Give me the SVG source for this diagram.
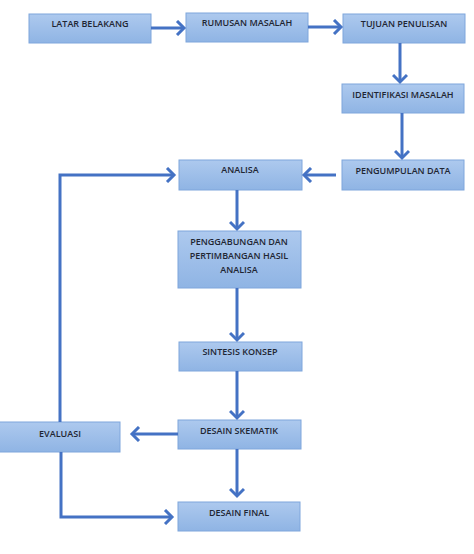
<svg xmlns="http://www.w3.org/2000/svg" width="474" height="554" viewBox="0 0 474 554">
<defs>
<linearGradient id="g" x1="0" y1="0" x2="0" y2="1">
<stop offset="0" stop-color="#adc9ee"/>
<stop offset="1" stop-color="#8fb4e4"/>
</linearGradient>
<marker id="a" markerUnits="userSpaceOnUse" markerWidth="16" markerHeight="16" refX="12" refY="8" orient="auto">
<path d="M5 1 L12 8 L5 15" fill="none" stroke="#4472c4" stroke-width="3"/>
</marker>
</defs>
<style>
.b{fill:url(#g);stroke:#7ea6dc;stroke-width:1}
.t{font-family:"Open Sans","Liberation Sans",sans-serif;font-size:9px;font-weight:600;fill:#1f2633;text-anchor:middle}
.c{fill:none;stroke:#4472c4;stroke-width:3}
</style>
<rect width="474" height="554" fill="#fff"/>
<g id="latar"><rect class="b" x="29" y="14" width="122" height="29"/><text class="t" x="90" y="27">LATAR BELAKANG</text></g>
<g id="rumusan"><rect class="b" x="186" y="13" width="122" height="29"/><text class="t" x="247" y="26">RUMUSAN MASALAH</text></g>
<g id="tujuan"><rect class="b" x="343" y="14" width="122" height="29"/><text class="t" x="404" y="27">TUJUAN PENULISAN</text></g>
<g id="identifikasi"><rect class="b" x="342" y="84" width="122" height="29"/><text class="t" x="403" y="98">IDENTIFIKASI MASALAH</text></g>
<g id="pengumpulan"><rect class="b" x="342" y="160" width="122" height="30"/><text class="t" x="403" y="174">PENGUMPULAN DATA</text></g>
<g id="analisa"><rect class="b" x="179" y="160" width="123" height="30"/><text class="t" x="240" y="173">ANALISA</text></g>
<g id="penggabungan"><rect class="b" x="178" y="231" width="123" height="57"/><text class="t" x="239" y="245">PENGGABUNGAN DAN</text><text class="t" x="239" y="259">PERTIMBANGAN HASIL</text><text class="t" x="239" y="273">ANALISA</text></g>
<g id="sintesis"><rect class="b" x="179" y="342" width="123" height="29"/><text class="t" x="240" y="355">SINTESIS KONSEP</text></g>
<g id="skematik"><rect class="b" x="178" y="420" width="123" height="29"/><text class="t" x="239" y="434">DESAIN SKEMATIK</text></g>
<g id="evaluasi"><rect class="b" x="-1" y="422" width="121" height="30"/><text class="t" x="60" y="437">EVALUASI</text></g>
<g id="final"><rect class="b" x="178" y="502" width="122" height="29"/><text class="t" x="239" y="516">DESAIN FINAL</text></g>
<g id="connectors">
<path class="c" marker-end="url(#a)" d="M151 28 H184"/>
<path class="c" marker-end="url(#a)" d="M308 27 H341"/>
<path class="c" marker-end="url(#a)" d="M400 43 V82"/>
<path class="c" marker-end="url(#a)" d="M402 113 V158"/>
<path class="c" marker-end="url(#a)" d="M336 175 H304"/>
<path class="c" marker-end="url(#a)" d="M60 422 V175 H174"/>
<path class="c" marker-end="url(#a)" d="M237 190 V229"/>
<path class="c" marker-end="url(#a)" d="M237 288 V340"/>
<path class="c" marker-end="url(#a)" d="M237 371 V418"/>
<path class="c" marker-end="url(#a)" d="M178 434 H132"/>
<path class="c" marker-end="url(#a)" d="M237 449 V496"/>
<path class="c" marker-end="url(#a)" d="M61 452 V517 H172"/>
</g>
</svg>
